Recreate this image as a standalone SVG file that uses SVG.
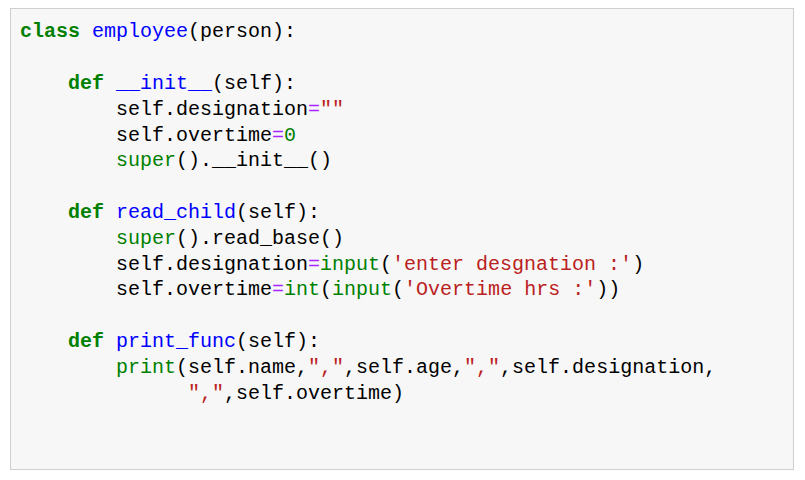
<svg xmlns="http://www.w3.org/2000/svg" width="805" height="480" viewBox="0 0 805 480">
<style>
text{font-family:"Liberation Mono","DejaVu Sans Mono",monospace;font-size:20px;fill:#000;white-space:pre}
.k{fill:#008000;font-weight:bold}
.f{fill:#0000ff}
.s{fill:#ba2121}
.o{fill:#aa22ff}
.b{fill:#008000}
</style>
<rect width="805" height="480" fill="#fff"/>
<g id="cell">
<rect x="10.5" y="8.5" width="783" height="461" fill="#f7f7f7" stroke="#cfcfcf"/>
</g>
<g id="code" xml:space="preserve">
<text x="20" y="37"><tspan class="k">class</tspan> <tspan class="f">employee</tspan>(person):</text>
<text x="68" y="89"><tspan class="k">def</tspan> <tspan class="f">__init__</tspan>(self):</text>
<text x="116" y="115">self.designation<tspan class="o">=</tspan><tspan class="s">""</tspan></text>
<text x="116" y="141">self.overtime<tspan class="o">=</tspan><tspan class="b">0</tspan></text>
<text x="116" y="166"><tspan class="b">super</tspan>().__init__()</text>
<text x="68" y="218"><tspan class="k">def</tspan> <tspan class="f">read_child</tspan>(self):</text>
<text x="116" y="244"><tspan class="b">super</tspan>().read_base()</text>
<text x="116" y="270">self.designation<tspan class="o">=</tspan><tspan class="b">input</tspan>(<tspan class="s">'enter desgnation :'</tspan>)</text>
<text x="116" y="295">self.overtime<tspan class="o">=</tspan><tspan class="b">int</tspan>(<tspan class="b">input</tspan>(<tspan class="s">'Overtime hrs :'</tspan>))</text>
<text x="68" y="347"><tspan class="k">def</tspan> <tspan class="f">print_func</tspan>(self):</text>
<text x="116" y="373"><tspan class="b">print</tspan>(self.name,<tspan class="s">","</tspan>,self.age,<tspan class="s">","</tspan>,self.designation,</text>
<text x="188" y="399"><tspan class="s">","</tspan>,self.overtime)</text>
</g>
</svg>
